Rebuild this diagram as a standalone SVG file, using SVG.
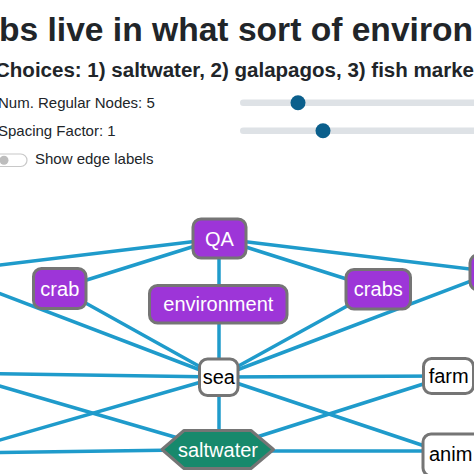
<svg xmlns="http://www.w3.org/2000/svg" width="474" height="474" viewBox="0 0 474 474">
<style>
.ui{font-family:"Liberation Sans",Arial,sans-serif;fill:#212529}
.edge{stroke:#1f9bcb;stroke-width:3.5;fill:none;stroke-linecap:round}
.qn{fill:#9d35d8;stroke:#757575;stroke-width:3}
.rn{fill:#ffffff;stroke:#757575;stroke-width:3}
.an{fill:#17896c;stroke:#757575;stroke-width:3;stroke-linejoin:round}
.lw{font-family:"Liberation Sans",Arial,sans-serif;font-size:20px;fill:#ffffff;text-anchor:middle}
.lb{font-family:"Liberation Sans",Arial,sans-serif;font-size:20px;fill:#000000;text-anchor:middle}
.lbs{font-family:"Liberation Sans",Arial,sans-serif;font-size:20px;fill:#000000;text-anchor:start}
</style>
<rect width="474" height="474" fill="#ffffff"/>
<g id="header">
<text class="ui" x="-1" y="41" font-size="34" font-weight="bold" textLength="474" lengthAdjust="spacingAndGlyphs">bs live in what sort of environ</text>
<text class="ui" x="-5" y="77" font-size="20" font-weight="bold" textLength="479" lengthAdjust="spacingAndGlyphs">Choices: 1) saltwater, 2) galapagos, 3) fish marke</text>
</g>
<g id="controls">
<text class="ui" x="-2" y="108" font-size="15">Num. Regular Nodes: 5</text>
<rect x="240" y="99.5" width="240" height="6.5" rx="3.25" fill="#dee2e6"/>
<circle cx="298" cy="102.7" r="7.5" fill="#0b5f8c"/>
<text class="ui" x="-2" y="136" font-size="15">Spacing Factor: 1</text>
<rect x="240" y="127.5" width="240" height="6.5" rx="3.25" fill="#dee2e6"/>
<circle cx="323" cy="130.7" r="7.5" fill="#0b5f8c"/>
<rect x="-6" y="154" width="33" height="12.5" rx="6.25" fill="#ffffff" stroke="#c8c8c8" stroke-width="1.2"/>
<circle cx="4" cy="160.2" r="4.5" fill="#bdbdbd"/>
<text class="ui" x="35" y="164" font-size="15">Show edge labels</text>
</g>
<g id="edges">
<line class="edge" x1="-57" y1="272" x2="219" y2="238.5"/>
<line class="edge" x1="-57" y1="272" x2="218.5" y2="377"/>
<line class="edge" x1="59.5" y1="288.5" x2="219" y2="238.5"/>
<line class="edge" x1="59.5" y1="288.5" x2="218.5" y2="377"/>
<line class="edge" x1="378" y1="289" x2="219" y2="238.5"/>
<line class="edge" x1="378" y1="289" x2="218.5" y2="377"/>
<line class="edge" x1="495" y1="272" x2="219" y2="238.5"/>
<line class="edge" x1="495" y1="272" x2="218.5" y2="377"/>
<line class="edge" x1="219" y1="238.5" x2="219" y2="449.5"/>
<line class="edge" x1="-45" y1="373" x2="218.5" y2="377"/>
<line class="edge" x1="-45" y1="373" x2="217.5" y2="449.5"/>
<line class="edge" x1="-45" y1="453" x2="218.5" y2="377"/>
<line class="edge" x1="-45" y1="453" x2="217.5" y2="449.5"/>
<line class="edge" x1="448.5" y1="376" x2="218.5" y2="377"/>
<line class="edge" x1="448.5" y1="376" x2="217.5" y2="449.5"/>
<line class="edge" x1="448.5" y1="454" x2="218.5" y2="377"/>
<line class="edge" x1="448.5" y1="451" x2="217.5" y2="451"/>
</g>
<g id="node-QA"><rect class="qn" x="193" y="219" width="53" height="39" rx="8"/><text class="lw" x="219.5" y="245.5">QA</text></g>
<g id="node-crab"><rect class="qn" x="33.5" y="268.5" width="52.5" height="40" rx="8"/><text class="lw" x="59.8" y="295.5">crab</text></g>
<g id="node-environment"><rect class="qn" x="149.5" y="285.5" width="137.5" height="37.5" rx="8"/><text class="lw" x="218.3" y="310.5">environment</text></g>
<g id="node-crabs"><rect class="qn" x="346" y="269.5" width="64.5" height="39.5" rx="8"/><text class="lw" x="378.3" y="296">crabs</text></g>
<g id="node-right"><rect class="qn" x="470" y="255" width="60" height="35" rx="8"/></g>
<g id="node-sea"><rect class="rn" x="199.5" y="359" width="38.5" height="36.5" rx="8"/><text class="lb" x="218.8" y="384">sea</text></g>
<g id="node-farm"><rect class="rn" x="423.5" y="358.5" width="50" height="35" rx="8"/><text class="lb" x="448.7" y="383">farm</text></g>
<g id="node-animal"><rect class="rn" x="423" y="434" width="70" height="42" rx="8"/><text class="lbs" x="429" y="461">anim</text></g>
<g id="node-saltwater"><polygon class="an" points="162,449.5 184,430.5 251,430.5 273.5,449.5 251,468.5 184,468.5"/><text class="lw" x="218" y="456.5">saltwater</text></g>
</svg>
